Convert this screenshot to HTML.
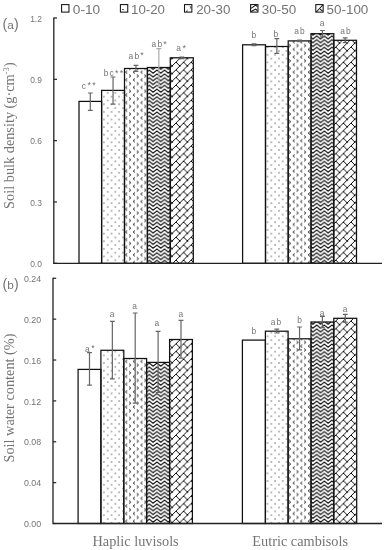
<!DOCTYPE html><html><head><meta charset="utf-8"><style>
html,body{margin:0;padding:0;background:#fff;width:386px;height:550px;overflow:hidden}
svg{display:block}
.t{font-family:'Liberation Sans', Arial, sans-serif;fill:#747474}
.s{font-family:'Liberation Serif', 'Times New Roman', serif;fill:#747474}
</style></head><body>
<svg width="386" height="550" viewBox="0 0 386 550">
<defs><pattern id="pat_dots" patternUnits="userSpaceOnUse" width="7.610" height="7.610" x="103.90" y="203.20"><rect x="-0.50" y="-0.50" width="1.0" height="1.0" fill="#000"/><rect x="3.31" y="3.31" width="1.0" height="1.0" fill="#000"/><rect x="7.11" y="-0.50" width="1.0" height="1.0" fill="#000"/><rect x="-0.50" y="7.11" width="1.0" height="1.0" fill="#000"/><rect x="7.11" y="7.11" width="1.0" height="1.0" fill="#000"/></pattern><pattern id="pat_divot" patternUnits="userSpaceOnUse" width="7.610" height="7.610" x="124.40" y="205.40"><path d="M4.75 -1.45 L6.45 0.00 L4.75 1.45 M4.75 6.16 L6.45 7.61 L4.75 9.06 M2.85 2.36 L1.15 3.81 L2.85 5.25 M10.46 2.36 L8.76 3.81 L10.46 5.25 " fill="none" stroke="#000" stroke-width="0.9"/></pattern><pattern id="pat_zig" patternUnits="userSpaceOnUse" width="7.610" height="3.805" x="149.30" y="70.10"><path d="M-3.81 -0.71 L0 -3.81 L3.81 -0.71 L7.61 -3.81 L11.42 -0.71 M-3.81 3.10 L0 0.00 L3.81 3.10 L7.61 0.00 L11.42 3.10 M-3.81 6.91 L0 3.81 L3.81 6.91 L7.61 3.81 L11.42 6.91 " fill="none" stroke="#000" stroke-width="1.0"/></pattern><pattern id="pat_brick" patternUnits="userSpaceOnUse" width="7.610" height="7.610" x="172.16" y="96.42"><path d="M-1 8.61 L8.61 -1 M3.81 3.81 L8.21 8.21 M-0.6 -0.6 L0.6 0.6" fill="none" stroke="#000" stroke-width="0.95"/></pattern></defs>
<rect x="79.00" y="101.40" width="22.60" height="161.90" fill="#fff"/>
<rect x="101.60" y="90.40" width="22.90" height="172.90" fill="#fff"/>
<rect x="101.60" y="90.40" width="22.90" height="172.90" fill="url(#pat_dots)"/>
<rect x="124.50" y="68.50" width="22.90" height="194.80" fill="#fff"/>
<rect x="124.50" y="68.50" width="22.90" height="194.80" fill="url(#pat_divot)"/>
<rect x="147.40" y="67.50" width="22.90" height="195.80" fill="#fff"/>
<rect x="147.40" y="67.50" width="22.90" height="195.80" fill="url(#pat_zig)"/>
<rect x="170.30" y="57.80" width="23.00" height="205.50" fill="#fff"/>
<rect x="170.30" y="57.80" width="23.00" height="205.50" fill="url(#pat_brick)"/>
<rect x="242.60" y="44.80" width="22.90" height="218.50" fill="#fff"/>
<rect x="265.50" y="46.50" width="22.70" height="216.80" fill="#fff"/>
<rect x="265.50" y="46.50" width="22.70" height="216.80" fill="url(#pat_dots)"/>
<rect x="288.20" y="40.90" width="22.80" height="222.40" fill="#fff"/>
<rect x="288.20" y="40.90" width="22.80" height="222.40" fill="url(#pat_divot)"/>
<rect x="311.00" y="33.70" width="22.80" height="229.60" fill="#fff"/>
<rect x="311.00" y="33.70" width="22.80" height="229.60" fill="url(#pat_zig)"/>
<rect x="333.80" y="40.30" width="22.70" height="223.00" fill="#fff"/>
<rect x="333.80" y="40.30" width="22.70" height="223.00" fill="url(#pat_brick)"/>
<rect x="79.00" y="101.40" width="22.60" height="161.90" fill="none" stroke="#111" stroke-width="1.25"/>
<rect x="101.60" y="90.40" width="22.90" height="172.90" fill="none" stroke="#111" stroke-width="1.25"/>
<rect x="124.50" y="68.50" width="22.90" height="194.80" fill="none" stroke="#111" stroke-width="1.25"/>
<rect x="147.40" y="67.50" width="22.90" height="195.80" fill="none" stroke="#111" stroke-width="1.25"/>
<rect x="170.30" y="57.80" width="23.00" height="205.50" fill="none" stroke="#111" stroke-width="1.25"/>
<rect x="242.60" y="44.80" width="22.90" height="218.50" fill="none" stroke="#111" stroke-width="1.25"/>
<rect x="265.50" y="46.50" width="22.70" height="216.80" fill="none" stroke="#111" stroke-width="1.25"/>
<rect x="288.20" y="40.90" width="22.80" height="222.40" fill="none" stroke="#111" stroke-width="1.25"/>
<rect x="311.00" y="33.70" width="22.80" height="229.60" fill="none" stroke="#111" stroke-width="1.25"/>
<rect x="333.80" y="40.30" width="22.70" height="223.00" fill="none" stroke="#111" stroke-width="1.25"/>
<path d="M90.30 93.00 V110.40 M87.90 93.00 H92.70 M87.90 110.40 H92.70" stroke="#666" stroke-width="1.2" fill="none"/>
<path d="M113.05 77.00 V104.20 M110.65 77.00 H115.45 M110.65 104.20 H115.45" stroke="#666" stroke-width="1.2" fill="none"/>
<path d="M135.95 65.40 V71.40 M133.55 65.40 H138.35 M133.55 71.40 H138.35" stroke="#666" stroke-width="1.2" fill="none"/>
<path d="M158.85 48.70 V86.30 M156.45 48.70 H161.25 M156.45 86.30 H161.25" stroke="#aaa" stroke-width="1.2" fill="none"/>
<path d="M181.80 57.00 V58.60 M179.40 57.00 H184.20 M179.40 58.60 H184.20" stroke="#666" stroke-width="1.2" fill="none"/>
<path d="M254.05 43.90 V45.70 M251.65 43.90 H256.45 M251.65 45.70 H256.45" stroke="#666" stroke-width="1.2" fill="none"/>
<path d="M276.85 38.70 V53.30 M274.45 38.70 H279.25 M274.45 53.30 H279.25" stroke="#666" stroke-width="1.2" fill="none"/>
<path d="M299.60 40.20 V41.60 M297.20 40.20 H302.00 M297.20 41.60 H302.00" stroke="#666" stroke-width="1.2" fill="none"/>
<path d="M322.40 30.50 V36.90 M320.00 30.50 H324.80 M320.00 36.90 H324.80" stroke="#666" stroke-width="1.2" fill="none"/>
<path d="M345.15 37.90 V42.70 M342.75 37.90 H347.55 M342.75 42.70 H347.55" stroke="#666" stroke-width="1.2" fill="none"/>
<path d="M53.80 17.40 V263.30 H382.00" stroke="#222" stroke-width="1.3" fill="none"/>
<path d="M53.80 263.30 H57.00" stroke="#222" stroke-width="1.2"/>
<text class="t" x="30.20" y="267.00" font-size="9.4" textLength="11.7" lengthAdjust="spacingAndGlyphs">0.0</text>
<path d="M53.80 201.98 H57.00" stroke="#222" stroke-width="1.2"/>
<text class="t" x="30.20" y="205.68" font-size="9.4" textLength="11.7" lengthAdjust="spacingAndGlyphs">0.3</text>
<path d="M53.80 140.65 H57.00" stroke="#222" stroke-width="1.2"/>
<text class="t" x="30.20" y="144.35" font-size="9.4" textLength="11.7" lengthAdjust="spacingAndGlyphs">0.6</text>
<path d="M53.80 79.32 H57.00" stroke="#222" stroke-width="1.2"/>
<text class="t" x="30.20" y="83.02" font-size="9.4" textLength="11.7" lengthAdjust="spacingAndGlyphs">0.9</text>
<path d="M53.80 18.00 H57.00" stroke="#222" stroke-width="1.2"/>
<text class="t" x="30.20" y="21.70" font-size="9.4" textLength="11.7" lengthAdjust="spacingAndGlyphs">1.2</text>
<text class="t" x="89.40" y="88.80" font-size="8.4" text-anchor="middle">c<tspan font-size="9" letter-spacing="1.3" dx="1.6" dy="-0.5">**</tspan></text>
<text class="t" x="114.20" y="76.10" font-size="8.4" text-anchor="middle"><tspan letter-spacing="1.2">bc</tspan><tspan font-size="9" letter-spacing="1.3" dx="0.0" dy="-0.5">**</tspan></text>
<text class="t" x="136.80" y="58.60" font-size="8.4" text-anchor="middle"><tspan letter-spacing="1.2">ab</tspan><tspan font-size="9" letter-spacing="1.3" dx="0.0" dy="-0.5">*</tspan></text>
<text class="t" x="159.80" y="47.10" font-size="8.4" text-anchor="middle"><tspan letter-spacing="1.2">ab</tspan><tspan font-size="9" letter-spacing="1.3" dx="0.0" dy="-0.5">*</tspan></text>
<text class="t" x="181.80" y="51.00" font-size="8.4" text-anchor="middle">a<tspan font-size="9" letter-spacing="1.3" dx="1.6" dy="-0.5">*</tspan></text>
<text class="t" x="253.90" y="38.20" font-size="8.4" text-anchor="middle">b</text>
<text class="t" x="275.80" y="36.70" font-size="8.4" text-anchor="middle">b</text>
<text class="t" x="300.10" y="34.00" font-size="8.4" text-anchor="middle"><tspan letter-spacing="1.2">ab</tspan></text>
<text class="t" x="322.00" y="26.40" font-size="8.4" text-anchor="middle">a</text>
<text class="t" x="346.10" y="33.50" font-size="8.4" text-anchor="middle"><tspan letter-spacing="1.2">ab</tspan></text>
<text class="t" x="2.6" y="28.60" font-size="14.2" letter-spacing="0">(<tspan font-size="11.8">a</tspan>)</text>
<text class="s" transform="translate(14.30 135.60) rotate(-90)" text-anchor="middle" font-size="14.3">Soil bulk density (g&#183;cm<tspan dy="-5" font-size="8.6">-3</tspan><tspan dy="5">)</tspan></text>
<rect x="78.10" y="369.40" width="22.80" height="154.10" fill="#fff"/>
<rect x="100.90" y="350.30" width="22.90" height="173.20" fill="#fff"/>
<rect x="100.90" y="350.30" width="22.90" height="173.20" fill="url(#pat_dots)"/>
<rect x="123.80" y="358.50" width="22.80" height="165.00" fill="#fff"/>
<rect x="123.80" y="358.50" width="22.80" height="165.00" fill="url(#pat_divot)"/>
<rect x="146.60" y="362.40" width="23.00" height="161.10" fill="#fff"/>
<rect x="146.60" y="362.40" width="23.00" height="161.10" fill="url(#pat_zig)"/>
<rect x="169.60" y="339.50" width="22.80" height="184.00" fill="#fff"/>
<rect x="169.60" y="339.50" width="22.80" height="184.00" fill="url(#pat_brick)"/>
<rect x="242.40" y="340.10" width="23.00" height="183.40" fill="#fff"/>
<rect x="265.40" y="331.20" width="22.70" height="192.30" fill="#fff"/>
<rect x="265.40" y="331.20" width="22.70" height="192.30" fill="url(#pat_dots)"/>
<rect x="288.10" y="338.80" width="22.90" height="184.70" fill="#fff"/>
<rect x="288.10" y="338.80" width="22.90" height="184.70" fill="url(#pat_divot)"/>
<rect x="311.00" y="322.00" width="22.80" height="201.50" fill="#fff"/>
<rect x="311.00" y="322.00" width="22.80" height="201.50" fill="url(#pat_zig)"/>
<rect x="333.80" y="318.30" width="22.90" height="205.20" fill="#fff"/>
<rect x="333.80" y="318.30" width="22.90" height="205.20" fill="url(#pat_brick)"/>
<rect x="78.10" y="369.40" width="22.80" height="154.10" fill="none" stroke="#111" stroke-width="1.25"/>
<rect x="100.90" y="350.30" width="22.90" height="173.20" fill="none" stroke="#111" stroke-width="1.25"/>
<rect x="123.80" y="358.50" width="22.80" height="165.00" fill="none" stroke="#111" stroke-width="1.25"/>
<rect x="146.60" y="362.40" width="23.00" height="161.10" fill="none" stroke="#111" stroke-width="1.25"/>
<rect x="169.60" y="339.50" width="22.80" height="184.00" fill="none" stroke="#111" stroke-width="1.25"/>
<rect x="242.40" y="340.10" width="23.00" height="183.40" fill="none" stroke="#111" stroke-width="1.25"/>
<rect x="265.40" y="331.20" width="22.70" height="192.30" fill="none" stroke="#111" stroke-width="1.25"/>
<rect x="288.10" y="338.80" width="22.90" height="184.70" fill="none" stroke="#111" stroke-width="1.25"/>
<rect x="311.00" y="322.00" width="22.80" height="201.50" fill="none" stroke="#111" stroke-width="1.25"/>
<rect x="333.80" y="318.30" width="22.90" height="205.20" fill="none" stroke="#111" stroke-width="1.25"/>
<path d="M89.50 352.70 V385.20 M87.10 352.70 H91.90 M87.10 385.20 H91.90" stroke="#666" stroke-width="1.2" fill="none"/>
<path d="M112.35 321.40 V378.80 M109.95 321.40 H114.75 M109.95 378.80 H114.75" stroke="#666" stroke-width="1.2" fill="none"/>
<path d="M135.20 313.00 V403.20 M132.80 313.00 H137.60 M132.80 403.20 H137.60" stroke="#666" stroke-width="1.2" fill="none"/>
<path d="M158.10 331.30 V392.50 M155.70 331.30 H160.50 M155.70 392.50 H160.50" stroke="#666" stroke-width="1.2" fill="none"/>
<path d="M181.00 320.30 V358.20 M178.60 320.30 H183.40 M178.60 358.20 H183.40" stroke="#666" stroke-width="1.2" fill="none"/>
<path d="M276.75 329.20 V333.00 M274.35 329.20 H279.15 M274.35 333.00 H279.15" stroke="#666" stroke-width="1.2" fill="none"/>
<path d="M299.55 327.00 V349.80 M297.15 327.00 H301.95 M297.15 349.80 H301.95" stroke="#666" stroke-width="1.2" fill="none"/>
<path d="M322.40 316.40 V327.60 M320.00 316.40 H324.80 M320.00 327.60 H324.80" stroke="#666" stroke-width="1.2" fill="none"/>
<path d="M345.25 314.40 V322.20 M342.85 314.40 H347.65 M342.85 322.20 H347.65" stroke="#666" stroke-width="1.2" fill="none"/>
<path d="M53.00 277.70 V523.50 H382.00" stroke="#222" stroke-width="1.3" fill="none"/>
<path d="M53.00 523.50 H56.20" stroke="#222" stroke-width="1.2"/>
<text class="t" x="23.90" y="527.20" font-size="9.4" textLength="17.2" lengthAdjust="spacingAndGlyphs">0.00</text>
<path d="M53.00 482.63 H56.20" stroke="#222" stroke-width="1.2"/>
<text class="t" x="23.90" y="486.33" font-size="9.4" textLength="17.2" lengthAdjust="spacingAndGlyphs">0.04</text>
<path d="M53.00 441.77 H56.20" stroke="#222" stroke-width="1.2"/>
<text class="t" x="23.90" y="445.47" font-size="9.4" textLength="17.2" lengthAdjust="spacingAndGlyphs">0.08</text>
<path d="M53.00 400.90 H56.20" stroke="#222" stroke-width="1.2"/>
<text class="t" x="23.90" y="404.60" font-size="9.4" textLength="17.2" lengthAdjust="spacingAndGlyphs">0.12</text>
<path d="M53.00 360.03 H56.20" stroke="#222" stroke-width="1.2"/>
<text class="t" x="23.90" y="363.73" font-size="9.4" textLength="17.2" lengthAdjust="spacingAndGlyphs">0.16</text>
<path d="M53.00 319.17 H56.20" stroke="#222" stroke-width="1.2"/>
<text class="t" x="23.90" y="322.87" font-size="9.4" textLength="17.2" lengthAdjust="spacingAndGlyphs">0.20</text>
<path d="M53.00 278.30 H56.20" stroke="#222" stroke-width="1.2"/>
<text class="t" x="23.90" y="282.00" font-size="9.4" textLength="17.2" lengthAdjust="spacingAndGlyphs">0.24</text>
<text class="t" x="90.50" y="351.80" font-size="8.4" text-anchor="middle">a<tspan font-size="9" letter-spacing="1.3" dx="1.6" dy="-0.5">*</tspan></text>
<text class="t" x="112.10" y="316.80" font-size="8.4" text-anchor="middle">a</text>
<text class="t" x="134.60" y="309.00" font-size="8.4" text-anchor="middle">a</text>
<text class="t" x="156.80" y="325.80" font-size="8.4" text-anchor="middle">a</text>
<text class="t" x="180.80" y="316.90" font-size="8.4" text-anchor="middle">a</text>
<text class="t" x="253.90" y="333.60" font-size="8.4" text-anchor="middle">b</text>
<text class="t" x="276.60" y="325.20" font-size="8.4" text-anchor="middle"><tspan letter-spacing="1.2">ab</tspan></text>
<text class="t" x="299.50" y="323.20" font-size="8.4" text-anchor="middle">b</text>
<text class="t" x="322.20" y="316.00" font-size="8.4" text-anchor="middle">a</text>
<text class="t" x="345.20" y="311.80" font-size="8.4" text-anchor="middle">a</text>
<text class="t" x="2.6" y="289.00" font-size="14.2" letter-spacing="0">(<tspan font-size="11.8">b</tspan>)</text>
<text class="s" transform="translate(13.60 398.00) rotate(-90)" text-anchor="middle" font-size="14.3">Soil water content (%)</text>
<text class="s" x="135.6" y="545.6" font-size="14.3" text-anchor="middle">Haplic luvisols</text>
<text class="s" x="300.2" y="545.6" font-size="14.3" text-anchor="middle">Eutric cambisols</text>
<rect x="61.60" y="4.6" width="7.35" height="7.5" fill="#fff" stroke="#111" stroke-width="1.05"/>
<text class="t" x="72.85" y="13.6" font-size="13.2" textLength="27.4" lengthAdjust="spacingAndGlyphs">0-10</text>
<rect x="120.40" y="4.6" width="7.35" height="7.5" fill="#fff" stroke="#111" stroke-width="1.05"/>
<rect x="122.20" y="9.0" width="1.4" height="1.1" fill="#222"/>
<text class="t" x="131.05" y="13.6" font-size="13.2" textLength="33.9" lengthAdjust="spacingAndGlyphs">10-20</text>
<rect x="184.50" y="4.6" width="7.35" height="7.5" fill="#fff" stroke="#111" stroke-width="1.05"/>
<path d="M189.80 6.3 L191.10 7.4 L189.80 8.5 M187.60 10.1 L186.40 11.1 L187.40 12.1" fill="none" stroke="#222" stroke-width="0.9"/>
<text class="t" x="196.15" y="13.6" font-size="13.2" textLength="34.2" lengthAdjust="spacingAndGlyphs">20-30</text>
<rect x="250.60" y="4.6" width="7.35" height="7.5" fill="#fff" stroke="#111" stroke-width="1.05"/>
<path d="M251.10 8.4 L255.70 5.1 L257.40 6.6 M251.10 11.6 L255.70 9.1 L257.40 10.6" fill="none" stroke="#111" stroke-width="1.1"/>
<text class="t" x="261.65" y="13.6" font-size="13.2" textLength="34.5" lengthAdjust="spacingAndGlyphs">30-50</text>
<rect x="315.80" y="4.6" width="7.35" height="7.5" fill="#fff" stroke="#111" stroke-width="1.05"/>
<path d="M316.30 12.0 L322.80 5.0 M320.10 9.1 L322.60 11.2" fill="none" stroke="#111" stroke-width="1.1"/>
<text class="t" x="326.55" y="13.6" font-size="13.2" textLength="41.8" lengthAdjust="spacingAndGlyphs">50-100</text>
</svg></body></html>
